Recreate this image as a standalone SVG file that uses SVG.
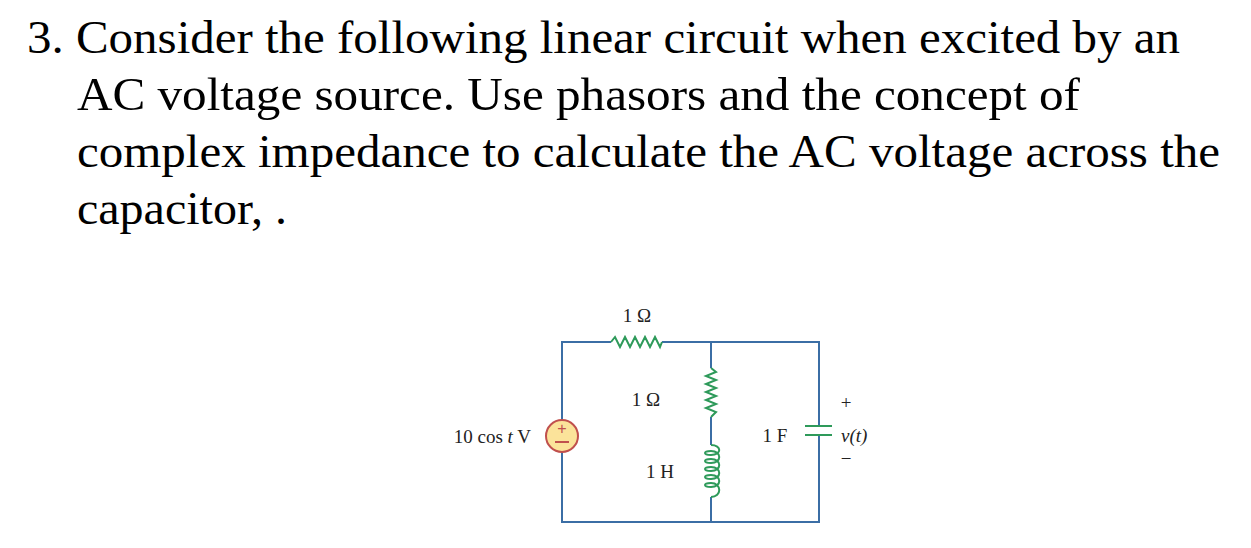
<svg xmlns="http://www.w3.org/2000/svg" width="1251" height="548" viewBox="0 0 1251 548">
<style>
.t{font-family:"Liberation Serif",serif;font-size:47px;fill:#000}
.l{font-family:"Liberation Serif",serif;font-size:19px;fill:#222}
.w{fill:none;stroke:#3b6ea5;stroke-width:2}
.c{fill:none;stroke:#2e9a5a;stroke-width:2}
</style>
<rect width="1251" height="548" fill="#fff"/>
<g id="title">
<text class="t" x="27" y="53" textLength="1153" lengthAdjust="spacingAndGlyphs">3. Consider the following linear circuit when excited by an</text>
<text class="t" x="77" y="110" textLength="1003" lengthAdjust="spacingAndGlyphs">AC voltage source. Use phasors and the concept of</text>
<text class="t" x="77" y="167" textLength="1143" lengthAdjust="spacingAndGlyphs">complex impedance to calculate the AC voltage across the</text>
<text class="t" x="77" y="224" textLength="210" lengthAdjust="spacingAndGlyphs">capacitor, .</text>
</g>
<g id="connectors">
<path class="w" d="M611 342 H562 V420 M562 452 V522 H819 V436 M819 426 V342 H662 M711 342 V368 M711 417 V445 M711 497 V522"/>
</g>
<g id="R1"><path class="c" d="M611 342 L615 337 L620 347 L625 337 L630 347 L635 337 L640 347 L645 337 L650 347 L655 337 L660 347 L662 342"/><text class="l" x="637" y="322" text-anchor="middle">1 Ω</text></g>
<g id="R2"><path class="c" d="M711 368 L716 372 L706 376 L716 380 L706 384 L716 388 L706 392 L716 396 L706 400 L716 404 L706 408 L716 412 L711 417"/><text class="l" x="646" y="406" text-anchor="middle">1 Ω</text></g>
<g id="L1"><path class="c" d="M711 445 C722 445 722 455 711 455 C703 455 703 451 711 451 C722 451 722 463 711 463 C703 463 703 459 711 459 C722 459 722 471 711 471 C703 471 703 467 711 467 C722 467 722 479 711 479 C703 479 703 475 711 475 C722 475 722 487 711 487 C703 487 703 483 711 483 C722 483 722 497 711 497"/><text class="l" x="660" y="478" text-anchor="middle">1 H</text></g>
<g id="C1"><path class="c" d="M805 426 H832 M805 435 H832"/><text class="l" x="775" y="442" text-anchor="middle">1 F</text>
<text class="l" x="846" y="409" text-anchor="middle">+</text><text class="l" x="841" y="442" font-style="italic">v(t)</text><text class="l" x="846" y="465" text-anchor="middle">−</text></g>
<g id="V1"><circle cx="562" cy="436" r="16" fill="#fbe39a" stroke="#c0504d" stroke-width="2"/>
<text x="562" y="434" text-anchor="middle" font-family="Liberation Sans,sans-serif" font-size="16" fill="#c0504d">+</text>
<path d="M555 442 H569" stroke="#c0504d" stroke-width="2"/>
<text class="l" x="531" y="443" text-anchor="end">10 cos <tspan font-style="italic">t</tspan> V</text></g>
</svg>
